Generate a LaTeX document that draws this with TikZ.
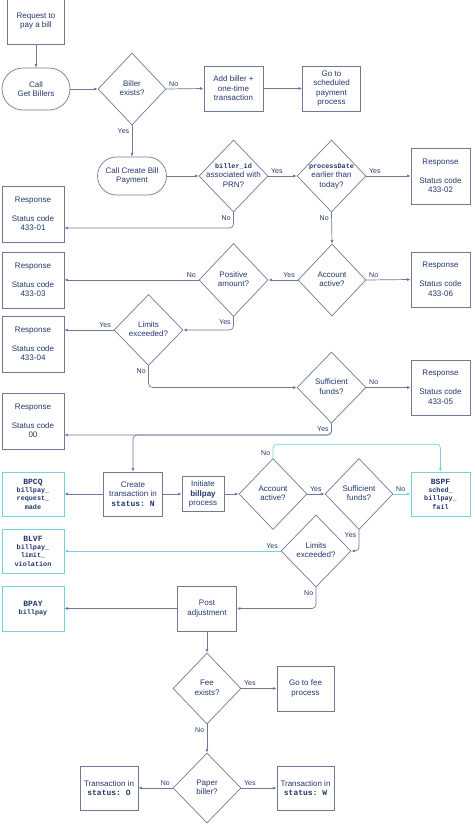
\documentclass[tikz,border=0pt]{standalone}
\usepackage{fontspec}
\setmainfont{Liberation Sans}
\setmonofont{Liberation Mono}
\usetikzlibrary{shapes.geometric, shapes.misc, arrows.meta}

\definecolor{inkblue}{RGB}{35,55,110}
\definecolor{edgegray}{RGB}{112,122,152}
\definecolor{eventteal}{RGB}{115,212,216}

\newcommand{\stacktext}[1]{\makebox[0pt]{\begin{tabular}{@{}c@{}}#1\end{tabular}}}
\newcommand{\code}[1]{{\ttfamily\bfseries #1}}
\newcommand{\smallcode}[1]{{\fontsize{6.8}{8.3}\selectfont\ttfamily\bfseries #1}}
\newcommand{\eventname}[1]{{\fontsize{8}{8.3}\selectfont #1}}

\begin{document}
\begin{tikzpicture}[
	x = 1pt, y = -1pt,
	line width = 0.7pt,
	every node/.style = {text = inkblue, font = \fontsize{8}{9.5}\selectfont},
	task/.style = {draw = edgegray, rectangle, align = center, inner sep = 1pt},
	call/.style = {draw = edgegray, rounded rectangle, align = center, inner sep = 1pt},
	ask/.style = {draw = edgegray, diamond, inner sep = 0pt, minimum width = 68pt, minimum height = 72pt},
	event/.style = {draw = eventteal, rectangle, align = center, inner sep = 1pt, minimum width = 62pt, font = \fontsize{6.8}{8.3}\selectfont\ttfamily\bfseries},
	flow/.style = {draw = edgegray, rounded corners = 4pt, -{Latex[length = 3.5pt, width = 3pt]}},
	eventflow/.style = {draw = eventteal, rounded corners = 4pt, -{Latex[length = 3.5pt, width = 3pt]}},
	lbl/.style = {font = \fontsize{7}{8}\selectfont, inner sep = 2.5pt}
	]
	
	\useasboundingbox (0, 0) rectangle (474, 824);
	
	% Start of the request
	
	\node [task, minimum width = 57pt, minimum height = 46pt] (request) at (36, 21) {Request to\\pay a bill};
	\node [call, minimum width = 70pt, minimum height = 42pt] (getbillers) at (36, 89) {Call\\Get Billers};
	\node [ask] (bexists) at (132, 89) {\stacktext{Biller\\exists?}};
	\node [task, minimum width = 59pt, minimum height = 45pt] (addbiller) at (233.5, 88.5) {Add biller +\\one-time\\transaction};
	\node [task, minimum width = 58pt, minimum height = 45pt] (sched) at (331.5, 88.5) {Go to\\scheduled\\payment\\process};
	
	% Create bill payment checks
	
	\node [call, minimum width = 71pt, minimum height = 38pt] (createbill) at (132, 176) {Call Create Bill\\Payment};
	\node [ask, minimum width = 69pt] (billerid) at (233.5, 176) {\stacktext{\smallcode{biller\_id}\\associated with\\PRN?}};
	\node [ask, minimum width = 69pt] (pdate) at (331.5, 176) {\stacktext{\smallcode{processDate}\\earlier than\\today?}};
	\node [task, minimum width = 59pt, minimum height = 56pt] (r02) at (440.5, 176) {Response\\[9.5pt]Status code\\433-02};
	\node [task, minimum width = 62pt, minimum height = 56pt] (r01) at (33, 214) {Response\\[9.5pt]Status code\\433-01};
	
	\node [ask] (acct1) at (332, 280) {\stacktext{Account\\active?}};
	\node [ask, minimum width = 69pt, minimum height = 73pt] (pos) at (233.5, 280) {\stacktext{Positive\\amount?}};
	\node [task, minimum width = 59pt, minimum height = 55pt] (r06) at (440.5, 279.5) {Response\\[9.5pt]Status code\\433-06};
	\node [task, minimum width = 62pt, minimum height = 56pt] (r03) at (33, 280) {Response\\[9.5pt]Status code\\433-03};
	
	\node [ask, minimum width = 69pt, minimum height = 71pt] (limits1) at (148.5, 330) {\stacktext{Limits\\exceeded?}};
	\node [task, minimum width = 62pt, minimum height = 56pt] (r04) at (33, 344) {Response\\[9.5pt]Status code\\433-04};
	
	\node [ask, minimum width = 69pt, minimum height = 71pt] (suff1) at (331.5, 387.5) {\stacktext{Sufficient\\funds?}};
	\node [task, minimum width = 59pt, minimum height = 55pt] (r05) at (440.5, 387.5) {Response\\[9.5pt]Status code\\433-05};
	\node [task, minimum width = 62pt, minimum height = 56pt] (r00) at (33, 421) {Response\\[9.5pt]Status code\\00};
	
	% Billpay process
	
	\node [task, minimum width = 59pt, minimum height = 44pt] (create) at (133, 494) {Create\\transaction in\\\code{status: N}};
	\node [event, minimum height = 44pt] (bpcq) at (33, 494) {\eventname{BPCQ}\\billpay\_\\request\_\\made};
	\node [task, minimum width = 42pt, minimum height = 35pt] (initiate) at (203, 494) {Initiate\\\textbf{billpay}\\process};
	\node [ask, minimum height = 71pt] (acct2) at (273, 494) {\stacktext{Account\\active?}};
	\node [ask, minimum height = 71pt] (suff2) at (359, 494) {\stacktext{Sufficient\\funds?}};
	\node [event, minimum width = 59pt, minimum height = 44pt] (bspf) at (440.5, 494) {\eventname{BSPF}\\sched\_\\billpay\_\\fail};
	
	\node [ask, minimum width = 70pt] (limits2) at (316, 551) {\stacktext{Limits\\exceeded?}};
	\node [event, minimum height = 44pt] (blvf) at (33, 551) {\eventname{BLVF}\\billpay\_\\limit\_\\violation};
	
	\node [task, minimum width = 59pt, minimum height = 45pt] (post) at (207, 608.5) {Post\\adjustment};
	\node [event, minimum height = 45pt] (bpay) at (33, 608.5) {\eventname{BPAY}\\billpay};
	
	% Fee and paper biller
	
	\node [ask, minimum height = 71pt] (fee) at (207, 688.5) {\stacktext{Fee\\exists?}};
	\node [task, minimum width = 57pt, minimum height = 45pt] (feeproc) at (305.5, 688.5) {Go to fee\\process};
	\node [ask, minimum height = 70pt] (paper) at (207, 788) {\stacktext{Paper\\biller?}};
	\node [task, minimum width = 58pt, minimum height = 44pt] (tO) at (109, 788) {Transaction in\\\code{status: O}};
	\node [task, minimum width = 57pt, minimum height = 44pt] (tW) at (305.5, 788) {Transaction in\\\code{status: W}};
	
	\coordinate (nobiller) at ([yshift = -14pt] r01.east);
	\coordinate (fundsok) at ([yshift = -14pt] r00.east);
	
	% The connectors
	
	\draw [flow] (request.south) -- (getbillers.north);
	\draw [flow] (getbillers.east) -- (bexists.west);
	\draw [flow] (bexists.east) node [lbl, above right] {No} -- (addbiller.west);
	\draw [flow] (addbiller.east) -- (sched.west);
	\draw [flow] (bexists.south) node [lbl, below left] {Yes} -- (createbill.north);
	
	\draw [flow] (createbill.east) -- (billerid.west);
	\draw [flow] (billerid.east) node [lbl, above right] {Yes} -- (pdate.west);
	\draw [flow] (pdate.east) node [lbl, above right] {Yes} -- (r02.west);
	\draw [flow] (billerid.south) node [lbl, below left] {No} |- (nobiller);
	\draw [flow] (pdate.south) node [lbl, below left] {No} -- (acct1.north);
	
	\draw [flow] (acct1.west) node [lbl, above left] {Yes} -- (pos.east);
	\draw [flow] (acct1.east) node [lbl, above right] {No} -- (r06.west);
	\draw [flow] (pos.west) node [lbl, above left] {No} -- (r03.east);
	\draw [flow] (pos.south) node [lbl, below left] {Yes} |- (limits1.east);
	\draw [flow] (limits1.west) node [lbl, above left] {Yes} -- (limits1.west -| r04.east);
	\draw [flow] (limits1.south) node [lbl, below left] {No} |- (suff1.west);
	
	\draw [flow] (suff1.east) node [lbl, above right] {No} -- (r05.west);
	\draw [flow] (suff1.south) node [lbl, below left] {Yes} |- (fundsok);
	\draw [flow] (suff1.south) |- (create.north |- fundsok) -- (create.north);
	
	\draw [flow] (create.west) -- (bpcq.east);
	\draw [flow] (create.east) -- (initiate.west);
	\draw [flow] (initiate.east) -- (acct2.west);
	\draw [flow] (acct2.east) node [lbl, above right] {Yes} -- (suff2.west);
	\draw [eventflow] (suff2.east) node [lbl, above right] {No} -- (bspf.west);
	\draw [eventflow] (acct2.north) node [lbl, above left] {No} -- ++(0, -14) -| (bspf.north);
	\draw [flow] (suff2.south) node [lbl, below left] {Yes} |- (limits2.east);
	\draw [eventflow] (limits2.west) node [lbl, above left] {Yes} -- (limits2.west -| blvf.east);
	\draw [flow] (limits2.south) node [lbl, below left] {No} |- (post.east);
	
	\draw [flow] (post.west) -- (bpay.east);
	\draw [flow] (post.south) -- (fee.north);
	\draw [flow] (fee.east) node [lbl, above right] {Yes} -- (feeproc.west);
	\draw [flow] (fee.south) node [lbl, below left] {No} -- (paper.north);
	\draw [flow] (paper.west) node [lbl, above left] {No} -- (tO.east);
	\draw [flow] (paper.east) node [lbl, above right] {Yes} -- (tW.west);

\end{tikzpicture}
\end{document}
